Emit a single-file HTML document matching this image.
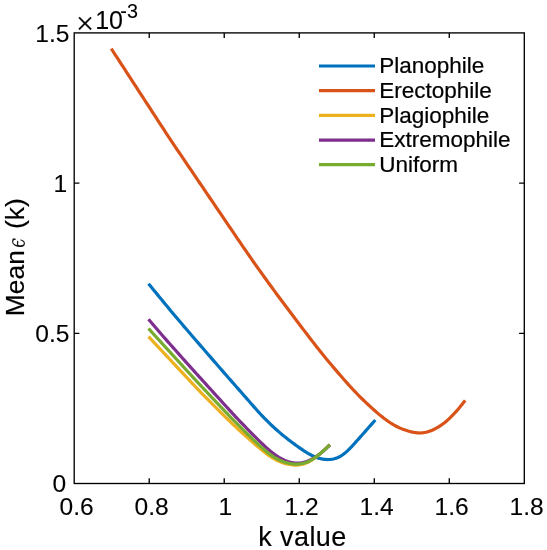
<!DOCTYPE html>
<html><head><meta charset="utf-8"><title>Mean epsilon vs k</title>
<style>
html,body{margin:0;padding:0;background:#fff;}
svg{display:block;}
text{font-family:"Liberation Sans",sans-serif;fill:#000;stroke:#000;stroke-width:0.22px;}
text.tk{stroke-width:0.1px;}
text.lb{stroke-width:0.15px;}
</style></head><body>
<svg width="547" height="550" viewBox="0 0 547 550">
<rect width="547" height="550" fill="#fff"/>
<path d="M148.50 283.71 L149.99 285.53 L151.48 287.35 L152.98 289.17 L154.47 290.98 L155.96 292.80 L157.45 294.62 L158.94 296.44 L160.44 298.26 L161.93 300.08 L163.42 301.89 L164.91 303.70 L166.41 305.51 L167.90 307.31 L169.39 309.12 L170.88 310.91 L172.37 312.70 L173.87 314.48 L175.36 316.26 L176.85 318.03 L178.34 319.80 L179.83 321.57 L181.33 323.33 L182.82 325.09 L184.31 326.84 L185.80 328.58 L187.29 330.33 L188.79 332.06 L190.28 333.80 L191.77 335.52 L193.26 337.25 L194.76 338.97 L196.25 340.69 L197.74 342.41 L199.23 344.13 L200.72 345.85 L202.22 347.57 L203.71 349.29 L205.20 351.01 L206.69 352.73 L208.18 354.45 L209.68 356.17 L211.17 357.89 L212.66 359.61 L214.15 361.33 L215.64 363.05 L217.14 364.77 L218.63 366.48 L220.12 368.20 L221.61 369.91 L223.11 371.63 L224.60 373.33 L226.09 375.04 L227.58 376.74 L229.07 378.45 L230.57 380.15 L232.06 381.85 L233.55 383.55 L235.04 385.25 L236.53 386.95 L238.03 388.66 L239.52 390.36 L241.01 392.06 L242.50 393.76 L243.99 395.46 L245.49 397.16 L246.98 398.86 L248.47 400.57 L249.96 402.27 L251.46 403.97 L252.95 405.67 L254.44 407.36 L255.93 409.05 L257.42 410.72 L258.92 412.38 L260.41 414.00 L261.90 415.62 L263.39 417.18 L264.88 418.74 L266.38 420.23 L267.87 421.73 L269.36 423.17 L270.85 424.61 L272.34 425.99 L273.84 427.38 L275.33 428.72 L276.82 430.06 L278.31 431.35 L279.81 432.65 L281.30 433.90 L282.79 435.15 L284.28 436.37 L285.77 437.58 L287.27 438.75 L288.76 439.92 L290.25 441.06 L291.74 442.19 L293.23 443.30 L294.73 444.40 L296.22 445.47 L297.71 446.55 L299.20 447.59 L300.69 448.63 L302.19 449.63 L303.68 450.63 L305.17 451.58 L306.66 452.52 L308.16 453.39 L309.65 454.26 L311.14 455.03 L312.63 455.80 L314.12 456.45 L315.62 457.10 L317.11 457.62 L318.60 458.13 L320.09 458.51 L321.58 458.89 L323.08 459.12 L324.57 459.36 L326.06 459.46 L327.55 459.56 L329.04 459.50 L330.54 459.45 L332.03 459.22 L333.52 459.00 L335.01 458.57 L336.51 458.14 L338.00 457.48 L339.49 456.82 L340.98 455.91 L342.47 455.00 L343.97 453.84 L345.46 452.69 L346.95 451.31 L348.44 449.94 L349.93 448.41 L351.43 446.87 L352.92 445.24 L354.41 443.61 L355.90 441.94 L357.39 440.26 L358.89 438.58 L360.38 436.89 L361.87 435.21 L363.36 433.53 L364.86 431.84 L366.35 430.16 L367.84 428.47 L369.33 426.79 L370.82 425.11 L372.32 423.42 L373.81 421.74 L375.30 420.05" fill="none" stroke="#0072BD" stroke-width="3.2" stroke-linejoin="round"/>
<path d="M111.30 48.69 L112.80 51.00 L114.30 53.31 L115.80 55.62 L117.30 57.93 L118.80 60.24 L120.30 62.55 L121.80 64.86 L123.30 67.16 L124.80 69.47 L126.30 71.78 L127.80 74.09 L129.29 76.40 L130.79 78.71 L132.29 81.02 L133.79 83.33 L135.29 85.64 L136.79 87.95 L138.29 90.26 L139.79 92.57 L141.29 94.88 L142.79 97.19 L144.29 99.50 L145.79 101.81 L147.29 104.12 L148.79 106.42 L150.29 108.73 L151.79 111.04 L153.29 113.35 L154.79 115.66 L156.29 117.97 L157.79 120.28 L159.29 122.59 L160.79 124.89 L162.29 127.20 L163.79 129.49 L165.28 131.79 L166.78 134.06 L168.28 136.34 L169.78 138.60 L171.28 140.86 L172.78 143.10 L174.28 145.34 L175.78 147.57 L177.28 149.79 L178.78 152.01 L180.28 154.22 L181.78 156.44 L183.28 158.65 L184.78 160.86 L186.28 163.07 L187.78 165.29 L189.28 167.50 L190.78 169.71 L192.28 171.93 L193.78 174.14 L195.28 176.35 L196.78 178.56 L198.28 180.78 L199.77 182.99 L201.27 185.20 L202.77 187.41 L204.27 189.63 L205.77 191.84 L207.27 194.05 L208.77 196.26 L210.27 198.48 L211.77 200.69 L213.27 202.90 L214.77 205.12 L216.27 207.33 L217.77 209.54 L219.27 211.75 L220.77 213.97 L222.27 216.18 L223.77 218.39 L225.27 220.60 L226.77 222.82 L228.27 225.03 L229.77 227.24 L231.27 229.46 L232.77 231.67 L234.27 233.88 L235.76 236.09 L237.26 238.30 L238.76 240.50 L240.26 242.70 L241.76 244.90 L243.26 247.09 L244.76 249.27 L246.26 251.45 L247.76 253.62 L249.26 255.78 L250.76 257.93 L252.26 260.08 L253.76 262.21 L255.26 264.34 L256.76 266.46 L258.26 268.58 L259.76 270.68 L261.26 272.79 L262.76 274.88 L264.26 276.97 L265.76 279.05 L267.26 281.13 L268.76 283.19 L270.26 285.26 L271.75 287.31 L273.25 289.36 L274.75 291.40 L276.25 293.44 L277.75 295.47 L279.25 297.50 L280.75 299.51 L282.25 301.53 L283.75 303.54 L285.25 305.55 L286.75 307.55 L288.25 309.55 L289.75 311.54 L291.25 313.54 L292.75 315.52 L294.25 317.51 L295.75 319.50 L297.25 321.48 L298.75 323.46 L300.25 325.44 L301.75 327.41 L303.25 329.38 L304.75 331.35 L306.24 333.31 L307.74 335.27 L309.24 337.22 L310.74 339.17 L312.24 341.11 L313.74 343.05 L315.24 344.98 L316.74 346.89 L318.24 348.81 L319.74 350.70 L321.24 352.59 L322.74 354.45 L324.24 356.31 L325.74 358.14 L327.24 359.97 L328.74 361.77 L330.24 363.57 L331.74 365.34 L333.24 367.11 L334.74 368.87 L336.24 370.62 L337.74 372.36 L339.24 374.09 L340.74 375.82 L342.23 377.55 L343.73 379.26 L345.23 380.96 L346.73 382.65 L348.23 384.34 L349.73 385.99 L351.23 387.64 L352.73 389.26 L354.23 390.87 L355.73 392.44 L357.23 394.00 L358.73 395.52 L360.23 397.04 L361.73 398.51 L363.23 399.99 L364.73 401.42 L366.23 402.86 L367.73 404.26 L369.23 405.66 L370.73 407.03 L372.23 408.40 L373.73 409.74 L375.23 411.07 L376.73 412.36 L378.22 413.65 L379.72 414.88 L381.22 416.12 L382.72 417.30 L384.22 418.47 L385.72 419.58 L387.22 420.69 L388.72 421.71 L390.22 422.74 L391.72 423.67 L393.22 424.60 L394.72 425.43 L396.22 426.27 L397.72 426.99 L399.22 427.72 L400.72 428.36 L402.22 428.99 L403.72 429.55 L405.22 430.10 L406.72 430.58 L408.22 431.06 L409.72 431.46 L411.22 431.86 L412.71 432.17 L414.21 432.48 L415.71 432.68 L417.21 432.87 L418.71 432.92 L420.21 432.98 L421.71 432.87 L423.21 432.76 L424.71 432.50 L426.21 432.23 L427.71 431.80 L429.21 431.37 L430.71 430.80 L432.21 430.22 L433.71 429.50 L435.21 428.79 L436.71 427.95 L438.21 427.10 L439.71 426.12 L441.21 425.15 L442.71 424.04 L444.21 422.93 L445.71 421.69 L447.21 420.44 L448.70 419.06 L450.20 417.68 L451.70 416.18 L453.20 414.67 L454.70 413.04 L456.20 411.41 L457.70 409.67 L459.20 407.93 L460.70 406.09 L462.20 404.25 L463.70 402.32 L465.20 400.39" fill="none" stroke="#D95319" stroke-width="3.2" stroke-linejoin="round"/>
<path d="M148.50 336.57 L150.00 338.17 L151.50 339.78 L153.00 341.38 L154.50 342.98 L156.00 344.59 L157.50 346.19 L158.99 347.80 L160.49 349.40 L161.99 351.00 L163.49 352.61 L164.99 354.21 L166.49 355.82 L167.99 357.42 L169.49 359.03 L170.99 360.63 L172.49 362.23 L173.99 363.84 L175.49 365.44 L176.98 367.05 L178.48 368.65 L179.98 370.26 L181.48 371.86 L182.98 373.46 L184.48 375.07 L185.98 376.67 L187.48 378.28 L188.98 379.88 L190.48 381.48 L191.98 383.08 L193.48 384.67 L194.97 386.26 L196.47 387.84 L197.97 389.41 L199.47 390.98 L200.97 392.53 L202.47 394.08 L203.97 395.61 L205.47 397.14 L206.97 398.66 L208.47 400.18 L209.97 401.68 L211.47 403.18 L212.96 404.68 L214.46 406.17 L215.96 407.66 L217.46 409.15 L218.96 410.63 L220.46 412.12 L221.96 413.60 L223.46 415.08 L224.96 416.55 L226.46 418.02 L227.96 419.49 L229.46 420.94 L230.95 422.39 L232.45 423.83 L233.95 425.25 L235.45 426.67 L236.95 428.07 L238.45 429.45 L239.95 430.83 L241.45 432.19 L242.95 433.54 L244.45 434.88 L245.95 436.22 L247.45 437.55 L248.94 438.88 L250.44 440.21 L251.94 441.54 L253.44 442.86 L254.94 444.18 L256.44 445.49 L257.94 446.79 L259.44 448.07 L260.94 449.34 L262.44 450.58 L263.94 451.79 L265.44 452.96 L266.93 454.09 L268.43 455.16 L269.93 456.20 L271.43 457.17 L272.93 458.11 L274.43 458.96 L275.93 459.78 L277.43 460.52 L278.93 461.23 L280.43 461.85 L281.93 462.44 L283.43 462.96 L284.92 463.44 L286.42 463.84 L287.92 464.21 L289.42 464.50 L290.92 464.75 L292.42 464.91 L293.92 465.04 L295.42 465.06 L296.92 465.05 L298.42 464.92 L299.92 464.76 L301.42 464.45 L302.91 464.12 L304.41 463.63 L305.91 463.12 L307.41 462.45 L308.91 461.75 L310.41 460.90 L311.91 460.02 L313.41 459.00 L314.91 457.96 L316.41 456.80 L317.91 455.62 L319.41 454.35 L320.90 453.06 L322.40 451.71 L323.90 450.35 L325.40 448.96 L326.90 447.56 L328.40 446.17 L329.90 444.77" fill="none" stroke="#EDB120" stroke-width="3.2" stroke-linejoin="round"/>
<path d="M148.50 319.20 L150.00 320.98 L151.50 322.75 L153.00 324.51 L154.50 326.27 L156.00 328.02 L157.50 329.77 L158.99 331.51 L160.49 333.24 L161.99 334.96 L163.49 336.69 L164.99 338.40 L166.49 340.11 L167.99 341.82 L169.49 343.52 L170.99 345.22 L172.49 346.92 L173.99 348.61 L175.49 350.30 L176.98 351.99 L178.48 353.68 L179.98 355.36 L181.48 357.05 L182.98 358.73 L184.48 360.41 L185.98 362.09 L187.48 363.76 L188.98 365.43 L190.48 367.10 L191.98 368.77 L193.48 370.43 L194.97 372.09 L196.47 373.75 L197.97 375.40 L199.47 377.05 L200.97 378.70 L202.47 380.36 L203.97 382.01 L205.47 383.66 L206.97 385.31 L208.47 386.96 L209.97 388.61 L211.47 390.26 L212.96 391.91 L214.46 393.56 L215.96 395.22 L217.46 396.87 L218.96 398.52 L220.46 400.17 L221.96 401.82 L223.46 403.47 L224.96 405.12 L226.46 406.77 L227.96 408.42 L229.46 410.06 L230.95 411.70 L232.45 413.33 L233.95 414.95 L235.45 416.56 L236.95 418.15 L238.45 419.74 L239.95 421.31 L241.45 422.87 L242.95 424.42 L244.45 425.96 L245.95 427.50 L247.45 429.04 L248.94 430.57 L250.44 432.10 L251.94 433.62 L253.44 435.14 L254.94 436.65 L256.44 438.15 L257.94 439.64 L259.44 441.12 L260.94 442.58 L262.44 444.01 L263.94 445.43 L265.44 446.81 L266.93 448.16 L268.43 449.47 L269.93 450.74 L271.43 451.95 L272.93 453.14 L274.43 454.24 L275.93 455.32 L277.43 456.31 L278.93 457.26 L280.43 458.13 L281.93 458.96 L283.43 459.69 L284.92 460.39 L286.42 460.99 L287.92 461.54 L289.42 461.99 L290.92 462.39 L292.42 462.68 L293.92 462.93 L295.42 463.04 L296.92 463.12 L298.42 463.07 L299.92 462.98 L301.42 462.75 L302.91 462.50 L304.41 462.11 L305.91 461.69 L307.41 461.13 L308.91 460.56 L310.41 459.85 L311.91 459.12 L313.41 458.25 L314.91 457.38 L316.41 456.37 L317.91 455.35 L319.41 454.20 L320.90 453.05 L322.40 451.78 L323.90 450.50 L325.40 449.12 L326.90 447.73 L328.40 446.25 L329.90 444.77" fill="none" stroke="#7E2F8E" stroke-width="3.2" stroke-linejoin="round"/>
<path d="M148.50 328.53 L150.00 330.18 L151.50 331.82 L153.00 333.46 L154.50 335.11 L156.00 336.75 L157.50 338.39 L158.99 340.03 L160.49 341.68 L161.99 343.32 L163.49 344.96 L164.99 346.61 L166.49 348.25 L167.99 349.89 L169.49 351.54 L170.99 353.18 L172.49 354.82 L173.99 356.47 L175.49 358.11 L176.98 359.75 L178.48 361.40 L179.98 363.04 L181.48 364.68 L182.98 366.33 L184.48 367.97 L185.98 369.61 L187.48 371.25 L188.98 372.90 L190.48 374.53 L191.98 376.17 L193.48 377.80 L194.97 379.43 L196.47 381.05 L197.97 382.67 L199.47 384.28 L200.97 385.89 L202.47 387.49 L203.97 389.09 L205.47 390.68 L206.97 392.27 L208.47 393.86 L209.97 395.45 L211.47 397.04 L212.96 398.62 L214.46 400.21 L215.96 401.79 L217.46 403.37 L218.96 404.96 L220.46 406.54 L221.96 408.13 L223.46 409.71 L224.96 411.29 L226.46 412.87 L227.96 414.45 L229.46 416.02 L230.95 417.58 L232.45 419.14 L233.95 420.68 L235.45 422.21 L236.95 423.73 L238.45 425.24 L239.95 426.73 L241.45 428.22 L242.95 429.69 L244.45 431.16 L245.95 432.62 L247.45 434.07 L248.94 435.52 L250.44 436.96 L251.94 438.40 L253.44 439.83 L254.94 441.25 L256.44 442.66 L257.94 444.06 L259.44 445.45 L260.94 446.82 L262.44 448.15 L263.94 449.46 L265.44 450.73 L266.93 451.97 L268.43 453.14 L269.93 454.27 L271.43 455.33 L272.93 456.35 L274.43 457.29 L275.93 458.19 L277.43 458.99 L278.93 459.76 L280.43 460.44 L281.93 461.09 L283.43 461.65 L284.92 462.18 L286.42 462.62 L287.92 463.03 L289.42 463.36 L290.92 463.65 L292.42 463.85 L293.92 464.03 L295.42 464.09 L296.92 464.13 L298.42 464.05 L299.92 463.93 L301.42 463.68 L302.91 463.40 L304.41 462.97 L305.91 462.52 L307.41 461.90 L308.91 461.26 L310.41 460.46 L311.91 459.64 L313.41 458.67 L314.91 457.68 L316.41 456.57 L317.91 455.44 L319.41 454.21 L320.90 452.97 L322.40 451.65 L323.90 450.33 L325.40 448.95 L326.90 447.58 L328.40 446.19 L329.90 444.79" fill="none" stroke="#77AC30" stroke-width="3.2" stroke-linejoin="round"/>
<rect x="74.2" y="32.9" width="450.10" height="450.60" fill="none" stroke="#000" stroke-width="1.35"/>
<path d="M149.22 483.5 V478.3 M149.22 32.9 V38.1 M224.23 483.5 V478.3 M224.23 32.9 V38.1 M299.25 483.5 V478.3 M299.25 32.9 V38.1 M374.27 483.5 V478.3 M374.27 32.9 V38.1 M449.28 483.5 V478.3 M449.28 32.9 V38.1 M74.2 333.30 H79.4 M524.3 333.30 H519.0999999999999 M74.2 183.10 H79.4 M524.3 183.10 H519.0999999999999" stroke="#000" stroke-width="1.35" fill="none"/>
<text class="tk" x="76.60" y="514.7" font-size="24.6" text-anchor="middle">0.6</text>
<text class="tk" x="151.62" y="514.7" font-size="24.6" text-anchor="middle">0.8</text>
<text class="tk" x="225.23" y="514.7" font-size="24.6" text-anchor="middle">1</text>
<text class="tk" x="301.65" y="514.7" font-size="24.6" text-anchor="middle">1.2</text>
<text class="tk" x="376.67" y="514.7" font-size="24.6" text-anchor="middle">1.4</text>
<text class="tk" x="451.68" y="514.7" font-size="24.6" text-anchor="middle">1.6</text>
<text class="tk" x="526.70" y="514.7" font-size="24.6" text-anchor="middle">1.8</text>
<text class="tk" x="66.2" y="492.40" font-size="24.6" text-anchor="end">0</text>
<text class="tk" x="69.5" y="342.10" font-size="24.6" text-anchor="end">0.5</text>
<text class="tk" x="67.2" y="192.30" font-size="24.6" text-anchor="end">1</text>
<text class="tk" x="69.5" y="41.70" font-size="24.6" text-anchor="end">1.5</text>
<text x="76.0" y="34.25" font-size="32" style="font-family:'Liberation Serif',serif">×</text>
<text class="tk" x="95.2" y="28.8" font-size="25">10</text>
<text class="tk" x="120.3" y="17.5" font-size="19.8">-3</text>
<text x="302.5" y="545.5" class="lb" font-size="27" letter-spacing="0.4" text-anchor="middle">k value</text>
<g transform="translate(24.3 314.2) rotate(-90)">
<text x="-1.95" y="0" class="lb" font-size="26.4">Mean</text>
<text transform="translate(66.5 0.6) scale(0.74 1)" font-size="23.6" style="font-family:'DejaVu Serif',serif;font-style:italic;stroke-width:0;fill:#1a1a1a">ϵ</text>
<text x="85.12" y="0" class="lb" font-size="26.4">(k)</text>
</g>
<path d="M319 66.00 H375" stroke="#0072BD" stroke-width="3.2" fill="none"/>
<text x="379.3" y="73.40" font-size="22.5">Planophile</text>
<path d="M319 90.68 H375" stroke="#D95319" stroke-width="3.2" fill="none"/>
<text x="379.3" y="98.08" font-size="22.5">Erectophile</text>
<path d="M319 115.36 H375" stroke="#EDB120" stroke-width="3.2" fill="none"/>
<text x="379.3" y="122.76" font-size="22.5">Plagiophile</text>
<path d="M319 140.04 H375" stroke="#7E2F8E" stroke-width="3.2" fill="none"/>
<text x="379.3" y="147.44" font-size="22.5">Extremophile</text>
<path d="M319 164.72 H375" stroke="#77AC30" stroke-width="3.2" fill="none"/>
<text x="379.3" y="172.12" font-size="22.5">Uniform</text>
</svg></body></html>
